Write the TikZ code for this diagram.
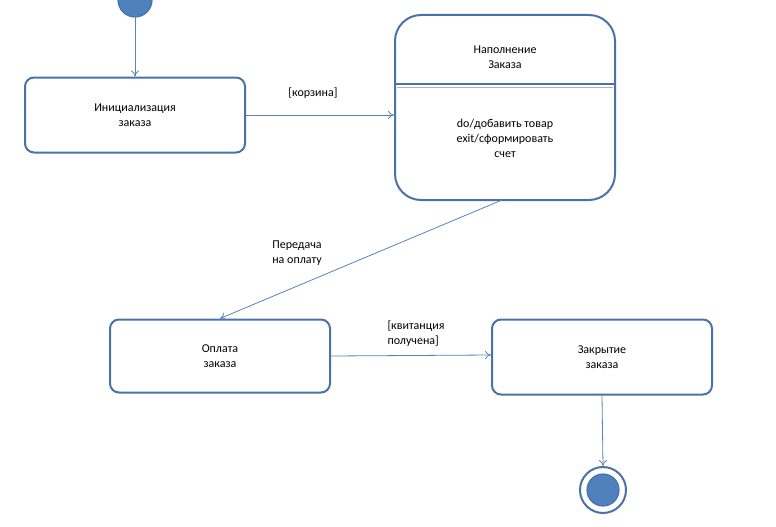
\documentclass[tikz,border=0pt]{standalone}
\usepackage{fontspec}
\setmainfont{Carlito}
\usetikzlibrary{arrows.meta}
\definecolor{bord}{HTML}{4A72A8}
\definecolor{fillc}{HTML}{4F81BD}
\definecolor{arr}{HTML}{5B82B8}
\begin{document}
\begin{tikzpicture}[x=1pt,y=-1pt,
  st/.style={draw=bord,line width=2pt,rounded corners=9pt,fill=white,align=center,font=\fontsize{12}{15}\selectfont,inner sep=0pt},
  tr/.style={draw=arr,line width=0.8pt,-{To[length=6pt,width=8pt]}},
  lbl/.style={font=\fontsize{12}{15}\selectfont,align=left,inner sep=0pt}]
\useasboundingbox (0,0) rectangle (776,527);
\node[circle,fill=fillc,draw=bord,line width=1.2pt,minimum size=34pt,inner sep=0pt] (init) at (135,0) {};
\node[st,minimum width=220pt,minimum height=75pt] (b1) at (135,115) {Инициализация\\заказа};
\node[st,rounded corners=26pt,minimum width=220pt,minimum height=185pt] (b2) at (505,107.5) {};
\draw[bord,line width=2pt] (395,84) -- (615,84);
\draw[gray!60,line width=1pt] (397,87) -- (613,87);
\node[lbl,align=center] (t2a) at (505,57) {Наполнение\\Заказа};
\node[lbl,align=center] (t2b) at (505,138) {do/добавить товар\\exit/сформировать\\счет};
\node[st,minimum width=220pt,minimum height=73pt] (b3) at (220,356) {Оплата\\заказа};
\node[st,minimum width=220pt,minimum height=75pt] (b4) at (602,357) {Закрытие\\заказа};
\node[circle,draw=bord,line width=2pt,minimum size=46pt,fill=white,inner sep=0pt] (fin) at (603,490) {};
\node[circle,fill=fillc,draw=bord,line width=1.2pt,minimum size=32pt,inner sep=0pt] (finin) at (603,490) {};
\draw[tr] (init.south) -- (b1.north);
\draw[tr] (b1.east) -- (b2.west |- b1.east);
\node[lbl] (l1) at (313,93) {[корзина]};
\coordinate (s2) at (502,200);
\draw[tr] (s2) -- (b3.north);
\node[lbl] (l2) at (297,253) {Передача\\на оплату};
\draw[tr] (b3.east) -- ([yshift=2pt]b4.west);
\node[lbl] (l3) at (416,334) {[квитанция\\получена]};
\draw[tr] (b4.south) -- (fin.north);
\end{tikzpicture}
\end{document}
